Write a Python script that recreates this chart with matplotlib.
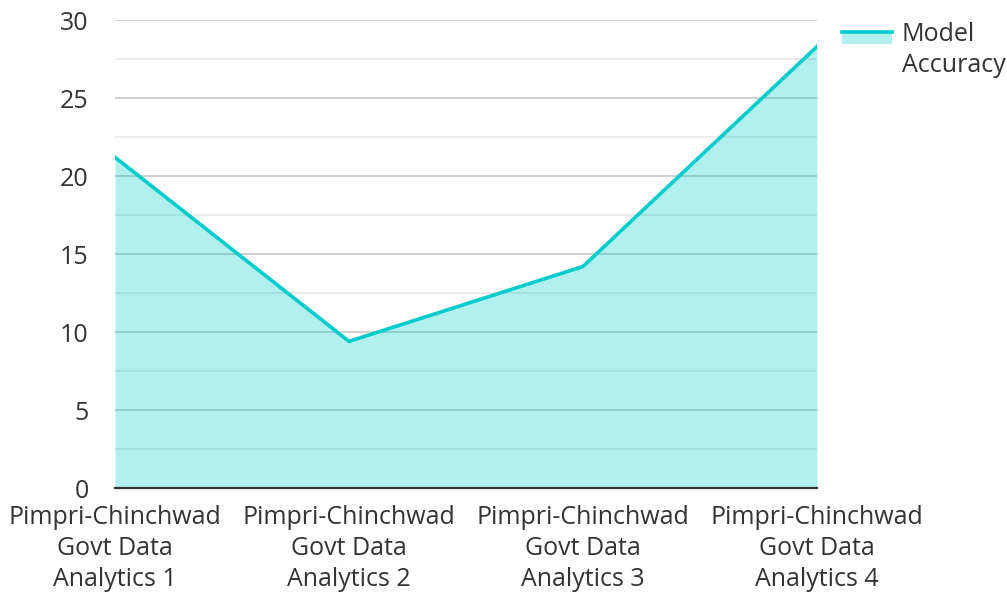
import matplotlib
matplotlib.use("Agg")
import matplotlib.pyplot as plt
from matplotlib.lines import Line2D
from matplotlib.patches import Rectangle

categories = ["Pimpri-Chinchwad\nGovt Data\nAnalytics 1",
              "Pimpri-Chinchwad\nGovt Data\nAnalytics 2",
              "Pimpri-Chinchwad\nGovt Data\nAnalytics 3",
              "Pimpri-Chinchwad\nGovt Data\nAnalytics 4"]
accuracy = [21.2, 9.4, 14.2, 28.3]
yticks = [0, 5, 10, 15, 20, 25, 30]
series_name = "Model\nAccuracy"

plt.rcParams['font.family'] = ['Open Sans', 'Noto Sans', 'DejaVu Sans']
text_color = '#333333'
line_color = '#00CCCC'
fs = 18

fig = plt.figure(figsize=(10.07, 5.94), dpi=100)
ax = fig.add_axes([115/1007, 1-488/594, (817-115)/1007, (488-20)/594])

x = list(range(len(categories)))
ax.fill_between(x, accuracy, 0, color=line_color, alpha=0.3, linewidth=0, zorder=2)
ax.plot(x, accuracy, color=line_color, linewidth=2.6, zorder=3, solid_joinstyle='miter')

ax.set_xlim(0, len(categories)-1)
ax.set_ylim(0, 30)
ax.set_yticks(yticks)
ax.set_yticks([2.5 + 5*i for i in range(6)], minor=True)
ax.grid(True, which='major', axis='y', color='#c8c8c8', linewidth=1.2, zorder=1)
ax.grid(True, which='minor', axis='y', color='#e6e6e6', linewidth=1.2, zorder=1)
ax.set_axisbelow(True)
for s in ['top', 'right', 'left']:
    ax.spines[s].set_visible(False)
ax.spines['bottom'].set_color('#333333')
ax.spines['bottom'].set_linewidth(1.6)
ax.spines['bottom'].set_zorder(4)

ax.set_xticks(x)
ax.set_xticklabels(categories, fontsize=fs, color=text_color, linespacing=1.32)
ax.tick_params(axis='x', length=0, pad=12)
ax.tick_params(axis='y', which='both', length=0, pad=19, labelsize=fs, labelcolor=text_color)

# legend
fig.patches.append(Rectangle((842/1007, 1-44/594), 50/1007, 12/594, transform=fig.transFigure,
                             facecolor=line_color, alpha=0.3, edgecolor='none'))
fig.lines.append(Line2D([842/1007, 892/1007], [1-32/594, 1-32/594], transform=fig.transFigure,
                        color=line_color, linewidth=2.6))
fig.text(902/1007, 1-22/594, series_name, fontsize=fs, color=text_color, va='top', ha='left',
         linespacing=1.32)

fig.savefig("out.png", dpi=100)
